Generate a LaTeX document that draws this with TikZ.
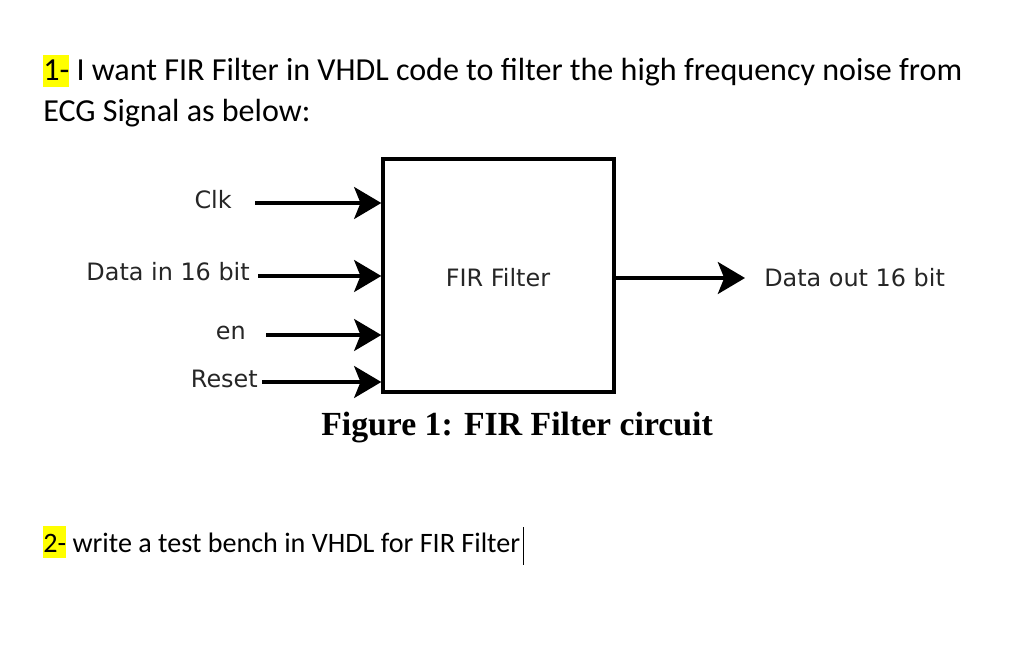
\documentclass[tikz,border=0pt]{standalone}
\usepackage{fontspec}
\setmainfont{Carlito}
\newfontfamily\diagfont{DejaVu Sans}
\newfontfamily\capfont{Liberation Serif}
\usetikzlibrary{arrows.meta,positioning}
\definecolor{hlyellow}{RGB}{255,255,0}
\setlength{\fboxsep}{0pt}
\newcommand{\hlmark}[1]{\colorbox{hlyellow}{\rule[-4.3pt]{0pt}{22.8pt}#1}}

\tikzset{
  para/.style={anchor=base west, inner sep=0pt, font=\fontsize{20}{24}\selectfont},
  bigpara/.style={para, font=\fontsize{22.8}{28}\selectfont},
  portlabel/.style={inner sep=0pt, font=\diagfont\fontsize{17}{20}\selectfont, text=black!85},
  sig/.style={line width=2.2pt, -{Stealth[length=0.68cm, width=0.8cm, inset=0.16cm]}},
  block/.style={draw, line width=2.4pt, minimum width=5.775cm, minimum height=5.825cm}
}

\begin{document}
\begin{tikzpicture}[x=0.025cm, y=-0.025cm]
\useasboundingbox (0,0) rectangle (1016,649);

% question text
\node [bigpara] (q1) at (43,81) {\hlmark{1-} I want FIR Filter in VHDL code to filter the high frequency noise from};
\node [bigpara] (q1b) at (43,122) {ECG Signal as below:};

% the filter block
\node [block] (fir) at (498.5,275.5) {};
\node [portlabel] (firlabel) at (498,278) {FIR Filter};

% inputs
\node [portlabel, anchor=east] (clk) at (232,200) {Clk};
\node [portlabel, anchor=east] (din) at (250,272) {Data in 16 bit};
\node [portlabel, anchor=east] (en) at (246,333) {en};
\node [portlabel, anchor=east] (rst) at (258,379) {Reset};
\coordinate (clk_s) at (255,203);
\coordinate (din_s) at (258,276);
\coordinate (en_s) at (266,335);
\coordinate (rst_s) at (262,382);
\draw [sig] (clk_s) -- (clk_s -| fir.west);
\draw [sig] (din_s) -- (din_s -| fir.west);
\draw [sig] (en_s) -- (en_s -| fir.west);
\draw [sig] (rst_s) -- (rst_s -| fir.west);

% output
\node [portlabel, anchor=west] (dout) at (764,278) {Data out 16 bit};
\coordinate (dout_e) at (745,278);
\draw [sig] (dout_e -| fir.east) -- (dout_e);

% caption
\node [inner sep=0pt, font=\capfont\bfseries\fontsize{24}{28}\selectfont] (cap) at (517,428) {Figure 1: FIR Filter circuit};

% second question, with the text cursor after it
\node [para] (q2) at (43,552) {\hlmark{2-} write a test bench in VHDL for FIR Filter};
\coordinate (cur_t) at ([xshift=2pt, yshift=25*0.025cm]q2.base east);
\coordinate (cur_b) at ([xshift=2pt, yshift=-13*0.025cm]q2.base east);
\draw [line width=0.7pt] (cur_t) -- (cur_b);
\end{tikzpicture}
\end{document}
